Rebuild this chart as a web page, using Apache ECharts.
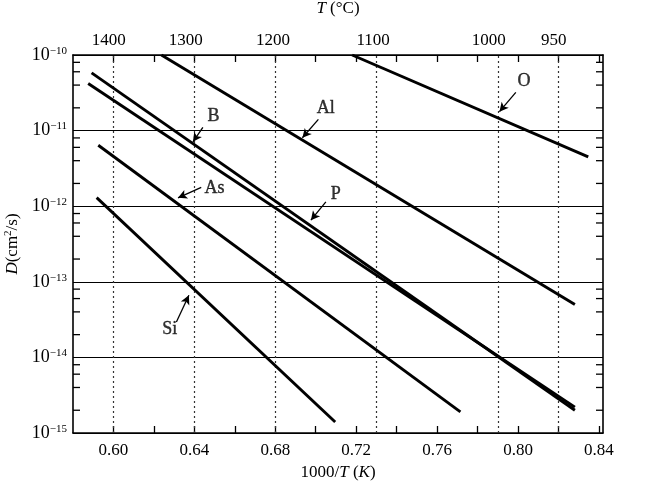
<!DOCTYPE html>
<html>
<head>
<meta charset="UTF-8">
<title>Diffusion coefficients</title>
<script src="https://cdn.jsdelivr.net/npm/echarts@6/dist/echarts.min.js"></script>
<style>
  html, body { margin: 0; padding: 0; background: #fff; }
  #chart { width: 645px; height: 489px; }
</style>
</head>
<body>
<div id="chart"></div>
<script>
// axis ranges
const xMin = 0.58, xMax = 0.842;
const yMin = 1e-15, yMax = 1e-10;

// tick positions
const bottomTicks = [0.60, 0.62, 0.64, 0.66, 0.68, 0.70, 0.72, 0.74, 0.76, 0.78, 0.80, 0.82, 0.84];
const bottomLabels = [0.60, 0.64, 0.68, 0.72, 0.76, 0.80, 0.84];
const tempC = [1400, 1300, 1200, 1100, 1000, 950];
const decades = [1e-15, 1e-14, 1e-13, 1e-12, 1e-11];
const minorMult = [2, 4, 6, 8];

// lines: [1000/T], [D in cm2/s]
const oX = [0.718, 0.8347],  oD = [1.0e-10, 4.5e-12];
const alX = [0.6237, 0.8281], alD = [1.0e-10, 5.0e-14];
const bX = [0.5892, 0.8281], bD = [5.8e-11, 2.0e-15];
const pX = [0.5875, 0.8281], pD = [4.2e-11, 2.2e-15];
const asX = [0.5925, 0.7715], asD = [6.4e-12, 1.9e-15];
const siX = [0.5917, 0.7096], siD = [1.3e-12, 1.4e-15];

// labels and arrows: name, label pos, arrow start, arrow tip
const labelNames = ['B', 'Al', 'As', 'P', 'O', 'Si'];
const labelPos = [[0.6495, 1.56e-11], [0.7050, 1.97e-11], [0.6500, 1.71e-12], [0.7099, 1.44e-12], [0.8030, 4.43e-11], [0.6278, 2.33e-14]];
const arrowFrom = [[0.6442, 1.10e-11], [0.7013, 1.41e-11], [0.6434, 1.77e-12], [0.7050, 1.14e-12], [0.7989, 3.21e-11], [0.6311, 2.94e-14]];
const arrowTo = [[0.6393, 7.11e-12], [0.6934, 8.04e-12], [0.6319, 1.29e-12], [0.6976, 6.53e-13], [0.7908, 1.78e-11], [0.6373, 6.62e-14]];

const serif = '"Liberation Serif", "DejaVu Serif", serif';
const tempPos = tempC.map(t => 1000 / (t + 273));

let minorTicks = [];
decades.forEach(d => minorMult.forEach(m => minorTicks.push([xMin, d * m])));

function pts(xs, ds) {
    return xs.map((x, i) => [x, ds[i]]);
}

function lineSeries(name, xs, ds) {
    return {
        name: name,
        type: 'line',
        data: pts(xs, ds),
        symbol: 'none',
        silent: true,
        lineStyle: { color: '#000', width: 2.9 },
        z: 5
    };
}

var myChart = echarts.init(document.getElementById('chart'));

let option = {
    backgroundColor: '#fff',
    animation: false,
    grid: { left: 73, right: 42, top: 55, bottom: 56, outerBoundsMode: 'none', containLabel: false },
    xAxis: [{
        type: 'value',
        min: xMin, max: xMax,
        position: 'bottom',
        name: '1000/{i|T} ({i|K})',
        nameLocation: 'middle',
        nameGap: 26,
        nameTextStyle: { fontFamily: serif, fontSize: 17, color: '#000',
            rich: { i: { fontFamily: serif, fontSize: 17, fontStyle: 'italic', color: '#000' } } },
        axisLine: { lineStyle: { color: '#000', width: 1.6 } },
        axisTick: { inside: true, length: 7, customValues: bottomTicks, lineStyle: { color: '#000', width: 1.3 } },
        axisLabel: { customValues: bottomLabels, margin: 9, fontFamily: serif, fontSize: 17, color: '#000',
            formatter: v => v.toFixed(2) },
        splitLine: { show: false }
    }, {
        type: 'value',
        min: xMin, max: xMax,
        position: 'top',
        name: '{i|T} (°C)',
        nameLocation: 'middle',
        nameGap: 38,
        nameTextStyle: { fontFamily: serif, fontSize: 17, color: '#000',
            rich: { i: { fontFamily: serif, fontSize: 17, fontStyle: 'italic', color: '#000' } } },
        axisLine: { lineStyle: { color: '#000', width: 1.6 } },
        axisTick: { inside: true, length: 7, customValues: bottomTicks, lineStyle: { color: '#000', width: 1.3 } },
        axisLabel: { customValues: tempPos, margin: 6, fontFamily: serif, fontSize: 17, color: '#000',
            formatter: v => String(Math.round(1000 / v - 273)) },
        splitLine: { show: false }
    }],
    yAxis: [{
        type: 'log',
        min: yMin, max: yMax,
        logBase: 10,
        position: 'left',
        name: '{i|D}(cm{s|2}/s)',
        nameLocation: 'middle',
        nameGap: 51,
        nameTextStyle: { fontFamily: serif, fontSize: 17, color: '#000',
            rich: {
                i: { fontFamily: serif, fontSize: 17, fontStyle: 'italic', color: '#000' },
                s: { fontFamily: serif, fontSize: 11, color: '#000', verticalAlign: 'bottom', padding: [0, 0, 8, 0] }
            } },
        axisLine: { lineStyle: { color: '#000', width: 1.6 } },
        axisTick: { show: false },
        axisLabel: {
            margin: 6, color: '#000',
            formatter: v => '{b|10}{s|−' + Math.round(-Math.log10(v)) + '}',
            rich: {
                b: { fontFamily: serif, fontSize: 18, color: '#000' },
                s: { fontFamily: serif, fontSize: 11, color: '#000', verticalAlign: 'bottom', padding: [0, 0, 8, 0] }
            }
        },
        splitLine: { show: true, lineStyle: { color: '#000', width: 1.1 } }
    }, {
        type: 'log',
        min: yMin, max: yMax,
        logBase: 10,
        position: 'right',
        axisLine: { show: true, lineStyle: { color: '#000', width: 1.6 } },
        axisTick: { show: false },
        axisLabel: { show: false },
        splitLine: { show: false }
    }],
    series: [
        lineSeries('O', oX, oD),
        lineSeries('Al', alX, alD),
        lineSeries('B', bX, bD),
        lineSeries('P', pX, pD),
        lineSeries('As', asX, asD),
        lineSeries('Si', siX, siD),
        {
            // dotted temperature gridlines
            type: 'line',
            data: [],
            silent: true,
            markLine: {
                silent: true,
                symbol: 'none',
                label: { show: false },
                lineStyle: { color: '#333', type: [2, 3], width: 1.2 },
                data: tempPos.map(v => ({ xAxis: v }))
            }
        },
        {
            // arrows
            type: 'line',
            data: [],
            silent: true,
            markLine: {
                silent: true,
                symbol: ['none', 'arrow'],
                symbolSize: [7, 9],
                label: { show: false },
                lineStyle: { color: '#000', type: 'solid', width: 1.3 },
                data: arrowFrom.map((f, i) => [{ coord: f }, { coord: arrowTo[i] }])
            }
        },
        {
            type: 'scatter',
            data: labelPos.map((p, i) => ({ value: p, name: labelNames[i] })),
            symbolSize: 0,
            itemStyle: { color: '#000' },
            silent: true,
            z: 10,
            label: {
                show: true, position: 'inside', formatter: '{b}',
                fontFamily: serif, fontSize: 18, color: '#000',
                textBorderColor: '#000', textBorderWidth: 0.4
            }
        },
        {
            // minor log ticks on left and right
            type: 'custom',
            data: minorTicks,
            silent: true,
            clip: false,
            renderItem: function (params, api) {
                let v = api.value(1);
                let pl = api.coord([xMin, v]);
                let pr = api.coord([xMax, v]);
                return {
                    type: 'group',
                    children: [
                        { type: 'line', shape: { x1: pl[0], y1: pl[1], x2: pl[0] + 7, y2: pl[1] }, style: { stroke: '#000', lineWidth: 1.3 } },
                        { type: 'line', shape: { x1: pr[0] - 7, y1: pr[1], x2: pr[0], y2: pr[1] }, style: { stroke: '#000', lineWidth: 1.3 } }
                    ]
                };
            }
        }
    ]
};

myChart.setOption(option);
</script>
</body>
</html>
